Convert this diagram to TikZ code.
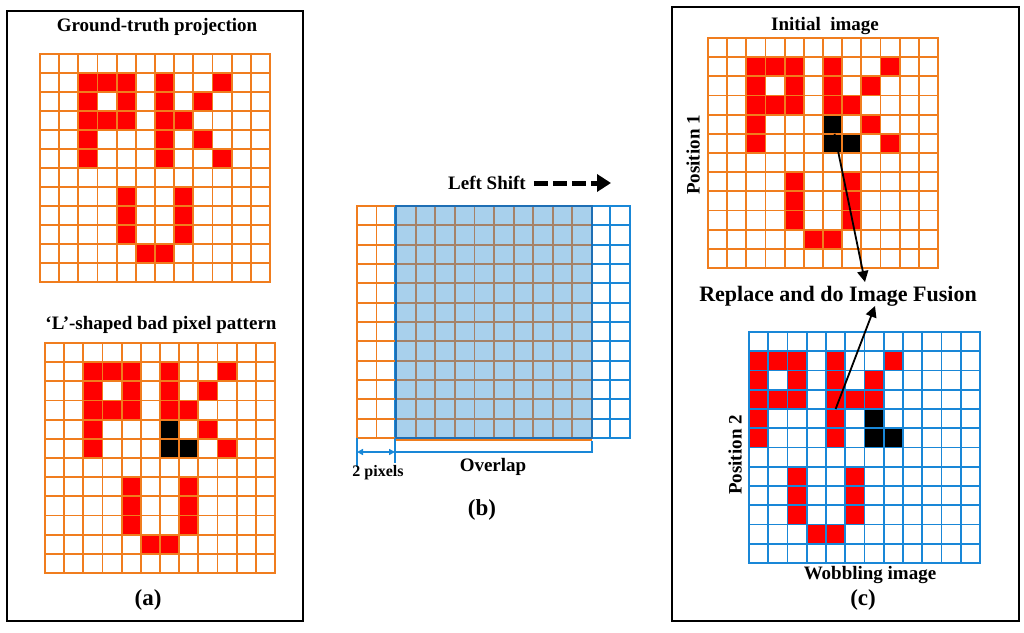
\documentclass[tikz,border=0pt]{standalone}
\usepackage{fontspec}
\setmainfont{Liberation Serif}
\usetikzlibrary{arrows.meta,positioning,calc}

\definecolor{gridorange}{RGB}{240,125,30}
\definecolor{gridblue}{RGB}{25,135,215}
\definecolor{darkblue}{RGB}{30,110,180}
\definecolor{overlapblue}{RGB}{168,208,236}
\definecolor{mixline}{RGB}{165,130,105}
\definecolor{pixred}{RGB}{255,0,0}

% red pixels (column/row) of the "PKU" letters
\def\redGT{2/1,3/1,4/1,6/1,9/1,2/2,4/2,6/2,8/2,2/3,3/3,4/3,6/3,7/3,2/4,6/4,8/4,2/5,6/5,9/5,4/7,7/7,4/8,7/8,4/9,7/9,5/10,6/10}
\def\redBad{2/1,3/1,4/1,6/1,9/1,2/2,4/2,6/2,8/2,2/3,3/3,4/3,6/3,7/3,2/4,8/4,2/5,9/5,4/7,7/7,4/8,7/8,4/9,7/9,5/10,6/10}
\def\redShift{0/1,1/1,2/1,4/1,7/1,0/2,2/2,4/2,6/2,0/3,1/3,2/3,4/3,5/3,6/3,0/4,4/4,0/5,4/5,2/7,5/7,2/8,5/8,2/9,5/9,3/10,4/10}
\def\blackL{6/4,6/5,7/5}

% 12x12 pixel grid in the current scope
\newcommand\pixgrid[1]{%
  \foreach \k in {0,...,12}{
    \draw[#1, line width=1.8pt] (\k,0) -- (\k,12);
    \draw[#1, line width=1.8pt] (0,\k) -- (12,\k);
  }
  \draw[#1, line width=1.8pt, line join=miter] (0,0) rectangle (12,12);
}

\tikzset{
  panel/.style={draw=black, line width=2.2pt},
  title/.style={font=\bfseries\fontsize{19}{22}\selectfont, inner sep=0pt},
  caption/.style={font=\bfseries\fontsize{23}{26}\selectfont, inner sep=0pt},
  small/.style={font=\bfseries\fontsize{16}{19}\selectfont, inner sep=0pt},
  fusionarrow/.style={draw=black, line width=1.8pt, -{Triangle[length=11pt,width=11pt]}},
  measure/.style={draw=gridblue, line width=1.6pt}
}

\begin{document}
\begin{tikzpicture}[x=1pt, y=-1pt]
    \useasboundingbox (0,0) rectangle (1024,632);

    % (a) ground truth and bad pixel pattern
    \draw[panel] (7,11) rectangle (303,621);
    \node[title] (gttitle) at (157,27) {Ground-truth projection};
    \begin{scope}[shift={(40,54)}, x=19.17pt, y=-19pt]
        \foreach \c/\r in \redGT {\fill[pixred] (\c,\r) rectangle ++(1,1);}
        \pixgrid{gridorange}
    \end{scope}
    \node[title] (badtitle) at (161,325) {‘L’-shaped bad pixel pattern};
    \begin{scope}[shift={(45,343)}, x=19.17pt, y=-19.17pt]
        \foreach \c/\r in \redBad {\fill[pixred] (\c,\r) rectangle ++(1,1);}
        \foreach \c/\r in \blackL {\fill[black] (\c,\r) rectangle ++(1,1);}
        \pixgrid{gridorange}
    \end{scope}
    \node[caption] (capa) at (148,600) {(a)};

    % (b) shifted sensor and overlap
    \node[title] (shift) at (487,183) {Left Shift};
    \coordinate (shiftend) at (611,183);
    \draw[line width=5pt, dash pattern=on 14pt off 5pt, -{Triangle[length=14pt,width=17pt]}]
        ([xshift=8pt]shift.east) -- (shiftend);
    \begin{scope}[shift={(395,206)}, x=19.58pt, y=-19.33pt]
        \pixgrid{gridblue}
    \end{scope}
    \begin{scope}[shift={(357,206)}, x=19.58pt, y=-19.33pt]
        \pixgrid{gridorange}
        % overlap of both positions
        \fill[overlapblue] (2,0) rectangle (12,12);
        \foreach \k in {3,...,11} {\draw[mixline, line width=1.8pt] (\k,0) -- (\k,12);}
        \foreach \k in {1,...,11} {\draw[mixline, line width=1.8pt] (2,\k) -- (12,\k);}
        \draw[gridorange, line width=1.8pt] (2,12.1) -- (12,12.1);
        \draw[darkblue, line width=1.8pt, line join=miter] (2,0) rectangle (12,12);
    \end{scope}
    \coordinate (lefta) at (357,438);
    \coordinate (leftb) at (357,467);
    \coordinate (olapa) at (395,438);
    \coordinate (olapb) at (395,463);
    \coordinate (arrl) at (357,452);
    \coordinate (arrr) at (395,452);
    \coordinate (olapc) at (592,452);
    \coordinate (olapd) at (592,441);
    \draw[measure] (lefta) -- (leftb);
    \draw[measure] (olapa) -- (olapb);
    \draw[measure, {Triangle[length=6pt,width=6pt]}-{Triangle[length=6pt,width=6pt]}] (arrl) -- (arrr);
    \draw[measure] (arrr) -- (olapc) -- (olapd);
    \node[small] (pixels) at (378,473) {2 pixels};
    \node[title] (overlap) at (493,467) {Overlap};
    \node[caption] (capb) at (482,510) {(b)};

    % (c) initial and wobbling image
    \draw[panel] (672,7) rectangle (1019,621);
    \node[title] (inittitle) at (825,26) {Initial\ \ image};
    \begin{scope}[shift={(708,38)}, x=19.17pt, y=-19.17pt]
        \foreach \c/\r in \redBad {\fill[pixred] (\c,\r) rectangle ++(1,1);}
        \foreach \c/\r in \blackL {\fill[black] (\c,\r) rectangle ++(1,1);}
        \pixgrid{gridorange}
        \coordinate (bad1) at (6.6,5);
    \end{scope}
    \node[title, rotate=90] (pos1) at (693,155) {Position 1};
    \node[font=\bfseries\fontsize{22}{26}\selectfont, inner sep=0pt] (fusion) at (838,296) {Replace and do Image Fusion};
    \begin{scope}[shift={(749,332)}, x=19.25pt, y=-19.25pt]
        \foreach \c/\r in \redShift {\fill[pixred] (\c,\r) rectangle ++(1,1);}
        \foreach \c/\r in \blackL {\fill[black] (\c,\r) rectangle ++(1,1);}
        \pixgrid{gridblue}
        \coordinate (bad2) at (4.5,4);
    \end{scope}
    \node[title, rotate=90] (pos2) at (735,455) {Position 2};
    \node[title] (wobtitle) at (870,575) {Wobbling image};
    \node[caption] (capc) at (863,600) {(c)};

    \coordinate (fusionin) at (865,282);
    \coordinate (fusionout) at (875,306);
    \draw[fusionarrow] (bad1) -- (fusionin);
    \draw[fusionarrow] (bad2) -- (fusionout);
\end{tikzpicture}
\end{document}
